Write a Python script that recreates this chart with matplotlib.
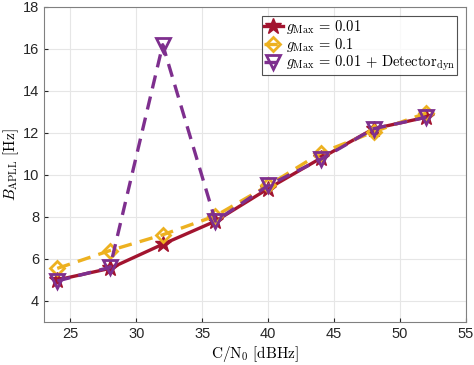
import numpy as np
import matplotlib.pyplot as plt

plt.rcParams["mathtext.fontset"] = "cm"
plt.rcParams["font.family"] = ["Liberation Sans", "DejaVu Sans"]

cn0 = [24, 28, 32, 36, 40, 44, 48, 52]
b_g001 = [5.0, 5.55, 6.7, 7.8, 9.35, 10.8, 12.2, 12.75]
b_g01 = [5.55, 6.4, 7.15, 8.05, 9.5, 11.05, 12.05, 12.95]
b_g001_dyn = [4.95, 5.6, 16.2, 7.8, 9.5, 10.75, 12.2, 12.75]

red = "#A2142F"
yellow = "#EDB120"
purple = "#7E2F8E"

fig = plt.figure(figsize=(4.74, 3.65), dpi=100)
ax = fig.add_axes([0.093, 0.118, 0.890, 0.863])

ax.plot(cn0, b_g01, color=yellow, linestyle=(0, (4, 2.5)), linewidth=2.4,
        marker="D", markersize=7.5, markerfacecolor="none", markeredgewidth=2.0,
        label=r"$g_{\mathrm{Max}} \,=\, 0.1$", zorder=3)
ax.plot(cn0, b_g001_dyn, color=purple, linestyle=(0, (4, 2.5)), linewidth=2.4,
        marker="v", markersize=10, markerfacecolor="none", markeredgewidth=2.0,
        label=r"$g_{\mathrm{Max}} \,=\, 0.01 \,+\, \mathrm{Detector}_{\mathrm{dyn}}$", zorder=4)
ax.plot(cn0, b_g001, color=red, linestyle="-", linewidth=2.4,
        marker="*", markersize=12, markeredgewidth=1.0,
        label=r"$g_{\mathrm{Max}} \,=\, 0.01$", zorder=2)

ax.set_xlim(23, 55)
ax.set_ylim(3, 18)
ax.set_xticks(np.arange(25, 56, 5))
ax.set_yticks(np.arange(4, 19, 2))
ax.grid(True, color="#e6e6e6", linewidth=0.8)
ax.set_axisbelow(True)
for s in ax.spines.values():
    s.set_color("#808080")
    s.set_linewidth(0.8)
ax.tick_params(colors="#262626", labelsize=10.5, direction="in", length=3)

ax.set_xlabel(r"$\mathrm{C/N_0\ [dBHz]}$", fontsize=11, labelpad=2)
ax.set_ylabel(r"$B_{\mathrm{APLL}}\ \mathrm{[Hz]}$", fontsize=11, labelpad=1)

handles, labels = ax.get_legend_handles_labels()
order = [2, 0, 1]
leg = ax.legend([handles[i] for i in order], [labels[i] for i in order],
                loc="upper right", fontsize=10.5, frameon=True, fancybox=False,
                borderpad=0.15, labelspacing=0.0, handlelength=1.3, handletextpad=0.2,
                borderaxespad=0.6)
leg.get_frame().set_edgecolor("#262626")
leg.get_frame().set_linewidth(0.8)

fig.savefig("out.png", dpi=100)
